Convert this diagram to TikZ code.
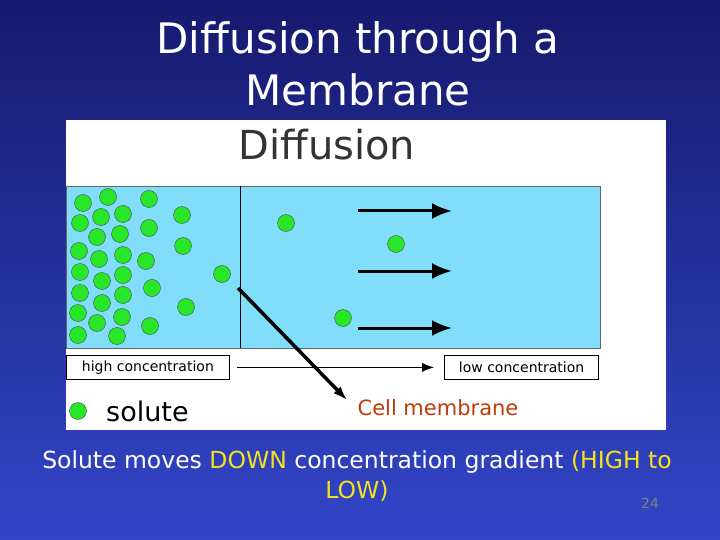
\documentclass[tikz,border=0pt]{standalone}
\usepackage{fontspec}
\setmainfont{DejaVu Sans}
\usetikzlibrary{positioning,arrows.meta}
\definecolor{navy}{RGB}{22,26,110}
\definecolor{royal}{RGB}{50,70,200}
\definecolor{water}{RGB}{128,222,250}
\definecolor{dotgreen}{RGB}{40,230,40}
\definecolor{rust}{RGB}{190,60,10}
\definecolor{gold}{RGB}{245,225,30}
\tikzset{
  solute/.style={circle,draw=black!70,fill=dotgreen,minimum size=17pt,inner sep=0pt},
  flow/.style={-{Latex[length=20pt,width=16pt]},line width=3pt},
  tag/.style={draw,thick,fill=white,font=\fontsize{14}{15}\selectfont,minimum height=24pt,inner sep=3pt}
}
\begin{document}
\begin{tikzpicture}[x=1pt,y=-1pt]

  % Background
  \shade[top color=navy,bottom color=royal] (0,0) rectangle (720,540);
  \useasboundingbox (0,0) rectangle (720,540);
  \fill[white] (66,120) rectangle (666,430);
  \fill[water] (66,186) rectangle (600,348);
  \draw[black!60,thick] (66,186) rectangle (600,348);

  % Membrane
  \coordinate (mtop) at (240,186);
  \coordinate (mbot) at (240,348);
  \draw (mtop) -- (mbot);

  % Titles
  \node[text=white,font=\fontsize{42}{52}\selectfont,align=center] (title) at (358,64) {Diffusion through a\\Membrane};
  \node[font=\fontsize{40}{44}\selectfont,text=black!80] (diff) at (327,145) {Diffusion};

  % Solutes
  \foreach \x/\y in {83/203,108/197,149/199,182/215,80/223,101/217,123/214,149/228,183/246,
    97/237,120/234,79/251,99/259,123/255,146/261,222/274,80/272,102/281,123/275,152/288,
    80/293,102/303,123/295,186/307,78/313,97/323,122/317,150/326,78/335,117/336,
    286/223,396/244,343/318}
    \node[solute] at (\x,\y) {};

  % Arrows
  \foreach \y in {211,271,328} {
    \coordinate (a\y) at (358,\y);
    \coordinate (b\y) at (452,\y);
    \draw[flow] (a\y) -- (b\y);
  }

  % Labels
  \node[tag,anchor=north west,minimum width=163pt] (high) at (66,355) {high concentration};
  \node[tag,anchor=north east,minimum width=154pt] (low) at (599,355) {low concentration};
  \draw[-{Latex[length=12pt,width=9pt]},line width=1.3pt] ([xshift=7pt]high.east) -- ([xshift=-10pt]low.west);

  \node[solute] (legend) at (78,411) {};
  \node[right=16pt of legend,font=\fontsize{27}{29}\selectfont] (sol) {solute};

  \node[text=rust,font=\fontsize{21}{23}\selectfont] (cell) at (438,408) {Cell membrane};
  \coordinate (ptr) at (238,288);
  \draw[-{Latex[length=14pt,width=10pt]},line width=3.5pt] (ptr) -- (347,400);

  % Caption
  \node[text=white,font=\fontsize{23.5}{30}\selectfont,align=center] (caption) at (357,476)
    {Solute moves \textcolor{gold}{DOWN} concentration gradient \textcolor{gold}{(HIGH to}\\\textcolor{gold}{LOW)}};
  \node[text=black!50,font=\fontsize{14}{16}\selectfont] (page) at (650,503) {24};

\end{tikzpicture}
\end{document}
